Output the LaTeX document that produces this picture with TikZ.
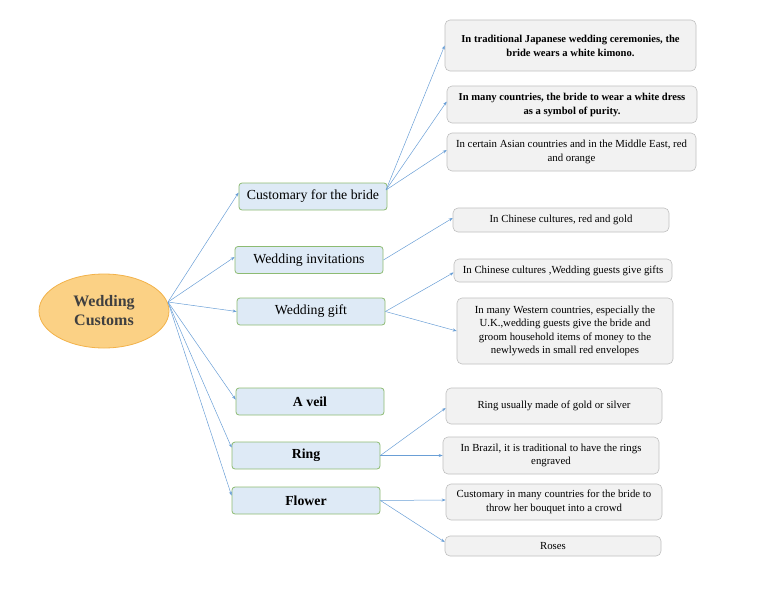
\documentclass[tikz,border=0pt]{standalone}
\usepackage{fontspec}
\setmainfont{Liberation Serif}
\usetikzlibrary{shapes.geometric,arrows.meta}
\definecolor{orfill}{HTML}{FBD185}
\definecolor{ordraw}{HTML}{F2B24A}
\definecolor{bfill}{HTML}{DEEAF6}
\definecolor{bdraw}{HTML}{8DBB72}
\definecolor{gfill}{HTML}{F2F2F2}
\definecolor{gdraw}{HTML}{BFBFBF}
\definecolor{lnk}{HTML}{6A9FD6}
\tikzset{
  rootnode/.style={ellipse,draw=ordraw,fill=orfill,line width=0.8pt,minimum width=130pt,minimum height=74pt,inner sep=0pt,align=center,font=\fontsize{16}{19}\selectfont\bfseries,text=black!75},
  midbox/.style={draw=bdraw,fill=bfill,line width=0.8pt,rounded corners=3pt,minimum width=148pt,minimum height=27pt,inner sep=0pt,font=\fontsize{13.8}{16}\selectfont},
  midbold/.style={midbox,font=\fontsize{13.8}{16}\selectfont\bfseries},
  leafbox/.style={draw=gdraw,fill=gfill,line width=0.6pt,rounded corners=5pt,inner sep=0pt,align=center,font=\fontsize{10.8}{13.5}\selectfont},
  leafbold/.style={leafbox,font=\fontsize{10.6}{14}\selectfont\bfseries},
  link/.style={draw=lnk,line width=0.5pt,-{Stealth[length=4pt,width=3pt]}}
}
\begin{document}
\begin{tikzpicture}[x=1pt,y=-1pt]
\useasboundingbox (0,0) rectangle (768,594);
\node[rootnode] (root) at (104,311) {Wedding\\Customs};
\coordinate (o) at (168,302);

\node[midbox] (bride) at (313,196.5) {Customary for the bride};
\node[midbox] (inv) at (309,260) {Wedding invitations};
\node[midbox] (gift) at (311,311.5) {Wedding gift};
\node[midbold] (veil) at (310,401.5) {A veil};
\node[midbold] (ring) at (306,455.5) {Ring};
\node[midbold] (flower) at (306,500.5) {Flower};

\node[leafbold,minimum width=251pt,minimum height=51pt] (b1) at (570.5,45.5) {In traditional Japanese wedding ceremonies, the\\bride wears a white kimono.};
\node[leafbold,minimum width=250pt,minimum height=37pt] (b2) at (572,104.5) {In many countries, the bride to wear a white dress\\as a symbol of purity.};
\node[leafbox,minimum width=249pt,minimum height=38pt] (b3) at (571.5,152) {In certain Asian countries and in the Middle East, red\\and orange};
\node[leafbox,minimum width=216pt,minimum height=24pt] (i1) at (561,220) {In Chinese cultures, red and gold};
\node[leafbox,minimum width=218pt,minimum height=23pt] (g1) at (563,270.5) {In Chinese cultures ,Wedding guests give gifts};
\node[leafbox,minimum width=216pt,minimum height=66pt] (g2) at (565,331) {In many Western countries, especially the\\U.K.,wedding guests give the bride and\\groom household items of money to the\\newlyweds in small red envelopes};
\node[leafbox,minimum width=216pt,minimum height=36pt] (r1) at (554,406) {Ring usually made of gold or silver};
\node[leafbox,minimum width=216pt,minimum height=37pt] (r2) at (551,455.5) {In Brazil, it is traditional to have the rings\\engraved};
\node[leafbox,minimum width=216pt,minimum height=36pt] (f1) at (554,502) {Customary in many countries for the bride to\\throw her bouquet into a crowd};
\node[leafbox,minimum width=216pt,minimum height=20pt] (f2) at (553,546) {Roses};

\draw[link] (o) -- ([yshift=4pt]bride.west);
\draw[link] (o) -- ([yshift=3pt]inv.west);
\draw[link] (o) -- (gift.west);
\draw[link] (o) -- ([yshift=-12pt]veil.north west);
\draw[link] (o) -- ([yshift=-6pt]ring.north west);
\draw[link] (o) -- ([yshift=-9pt]flower.north west);

\coordinate (bo) at (386,190);
\draw[link] (bo) -- (b1.west);
\draw[link] (bo) -- ([yshift=3pt]b2.west);
\draw[link] (bo) -- ([yshift=2pt]b3.west);
\draw[link] (inv.east) -- ([yshift=2pt]i1.west);
\draw[link] (gift.east) -- ([yshift=-2pt]g1.west);
\draw[link] (gift.east) -- (g2.west);
\draw[link] (ring.east) -- ([yshift=-2pt]r1.west);
\draw[link] (ring.east) -- (r2.west);
\draw[link] (flower.east) -- ([yshift=2pt]f1.west);
\draw[link] (flower.east) -- ([yshift=4pt]f2.west);
\end{tikzpicture}
\end{document}
